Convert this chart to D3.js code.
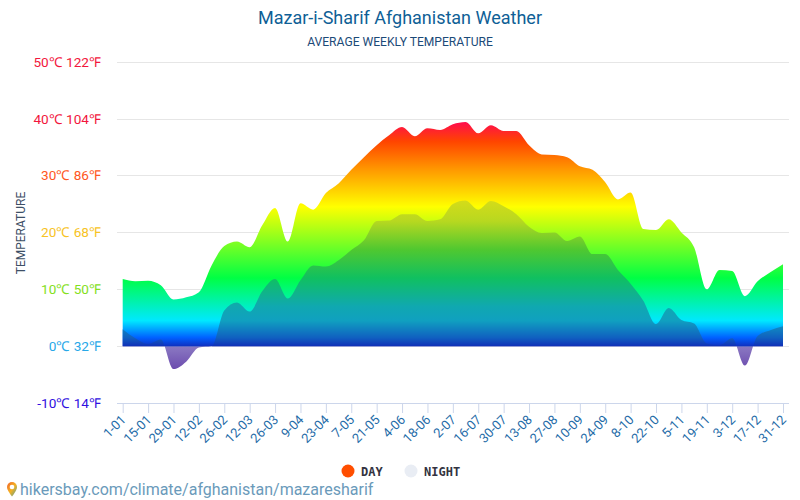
<!DOCTYPE html>
<html>
<head>
<meta charset="utf-8">
<script src="https://cdn.jsdelivr.net/npm/d3@7"></script>
<style>
  html, body { margin: 0; padding: 0; background: #fff; }
  svg { display: block; }
  text { font-family: Roboto, sans-serif; }
</style>
</head>
<body>
<svg id="chart" width="800" height="500"></svg>
<script>
const title = "Mazar-i-Sharif Afghanistan Weather";
const subtitle = "AVERAGE WEEKLY TEMPERATURE";
const yTitle = "TEMPERATURE";
const source = "hikersbay.com/climate/afghanistan/mazaresharif";

const weekLabels = ["1-01","15-01","29-01","12-02","26-02","12-03","26-03","9-04","23-04","7-05","21-05","4-06","18-06","2-07","16-07","30-07","13-08","27-08","10-09","24-09","8-10","22-10","5-11","19-11","3-12","17-12","31-12"];

const dayValues = [11.8,11.4,11.5,10.7,8.2,8.6,9.5,14.2,17.6,18.4,17.4,21.3,24.3,18.4,25.1,24,26.9,28.6,31,33.2,35.3,37.1,38.5,36.9,38.3,38,39,39.4,37.4,38.8,37.8,37.8,35.3,33.7,33.6,33.2,31.6,31,28.8,25.8,27,20.6,20.4,22.3,20,17.4,10,13.4,13.2,8.8,11.4,13,14.4];
const nightValues = [3,1.4,0.4,1.2,-4,-2.7,-0.2,0,6.3,7.7,6.1,9.7,11.8,8.4,11.6,14.2,14,15.1,16.9,18.6,22,22.1,23.2,23.2,22,22.3,25,25.6,24,25.5,24.6,23.2,21,19.9,20,18.5,19.3,16.2,16.2,13.4,11,8,3.9,6.7,4.6,4,0.5,0.2,1.4,-3.4,1.8,2.8,3.5];

const yTicks = [50,40,30,20,10,0,-10];
const yTickColors = ["#f2163c","#f2163c","#ff5722","#f7c325","#84e01c","#28a8e8","#3010e0"];

const dayStops = [[39.5,"#ff0a50"],[36,"#ff4400"],[31,"#ff9900"],[24.5,"#ffff00"],[12,"#00ff44"],[4.5,"#00e8ff"],[1.5,"#0060ff"],[0,"#1030c0"]];
const nightStops = [[26,"#d8dc18"],[22,"#b8d820"],[17,"#50c830"],[12,"#10c060"],[7,"#10a8b0"],[4.5,"#10a0c0"],[1.5,"#1060c0"],[0,"#1030b8"],[-0.1,"#8a78c2"],[-4,"#6c4cae"]];

const svg = d3.select("#chart");

const x = d3.scaleLinear().domain([0, dayValues.length - 1]).range([122.7, 783]);
const y = d3.scaleLinear().domain([-10, 50]).range([403.2, 61.6]);

// gradients run along the temperature scale
function addGradient(id, stops) {
  const g = svg.append("defs").append("linearGradient")
    .attr("id", id)
    .attr("gradientUnits", "userSpaceOnUse")
    .attr("x1", 0).attr("x2", 0)
    .attr("y1", y(stops[0][0])).attr("y2", y(stops[stops.length - 1][0]));
  const pos = d3.scaleLinear().domain([stops[0][0], stops[stops.length - 1][0]]).range([0, 1]);
  stops.forEach(s => g.append("stop").attr("offset", pos(s[0])).attr("stop-color", s[1]));
}
addGradient("dayFill", dayStops);
addGradient("nightFill", nightStops);

// grid
svg.append("g").selectAll("line").data(yTicks.filter(d => d !== -10)).join("line")
  .attr("x1", 117).attr("x2", 789)
  .attr("y1", d => Math.round(y(d)) + 0.5).attr("y2", d => Math.round(y(d)) + 0.5)
  .attr("stroke", "#e6e6e6");

// y labels
svg.append("g").selectAll("text").data(yTicks).join("text")
  .attr("x", 101).attr("y", d => y(d) + 5)
  .attr("text-anchor", "end")
  .attr("font-size", 13.6)
  .attr("fill", (d, i) => yTickColors[i])
  .text(d => `${d}℃ ${Math.round(d * 1.8 + 32)}℉`);

const area = vals => d3.area()
  .x((d, i) => x(i))
  .y0(y(0))
  .y1(d => y(d))
  .curve(d3.curveMonotoneX)(vals);

svg.append("path").attr("d", area(dayValues)).attr("fill", "url(#dayFill)");
svg.append("path").attr("d", area(nightValues)).attr("fill", "url(#nightFill)");

// x axis
const xAxis = d3.axisBottom(d3.scalePoint().domain(weekLabels).range([122.7, 783]))
  .tickSize(10).tickSizeOuter(0);
const xg = svg.append("g").attr("transform", "translate(0,403)").call(xAxis);
xg.select(".domain").attr("d", "M117,0.5H789").attr("stroke", "#ccd6eb");
xg.selectAll(".tick line").attr("stroke", "#ccd6eb");
xg.selectAll(".tick text")
  .attr("font-family", "Roboto, sans-serif")
  .attr("font-size", 13)
  .attr("fill", "#1f6ca8")
  .attr("text-anchor", "end")
  .attr("y", 0).attr("dy", 0)
  .attr("transform", "translate(3.5,17.5) rotate(-45)");

// titles
svg.append("text").attr("x", 400).attr("y", 24).attr("text-anchor", "middle")
  .attr("font-size", 18).attr("fill", "#0f5f96").text(title);
svg.append("text").attr("x", 400).attr("y", 46).attr("text-anchor", "middle")
  .attr("font-size", 12.1).attr("fill", "#1b4a78").text(subtitle);
svg.append("text").attr("transform", "translate(25,233) rotate(-90)").attr("text-anchor", "middle")
  .attr("font-size", 12).attr("fill", "#3d4f66").text(yTitle);

// legend
const legend = [["DAY", "#ff4e00", 348, 361], ["NIGHT", "#e9edf4", 411, 424]];
legend.forEach(l => {
  svg.append("circle").attr("cx", l[2]).attr("cy", 471).attr("r", 6.5).attr("fill", l[1]);
  svg.append("text").attr("x", l[3]).attr("y", 476)
    .style("font-family", "'DejaVu Sans Mono', monospace")
    .attr("font-size", 12).attr("font-weight", "bold").attr("fill", "#333340").text(l[0]);
});

// source line with pin
const pin = svg.append("defs").append("linearGradient").attr("id", "pinFill")
  .attr("x1", 0).attr("y1", 0).attr("x2", 1).attr("y2", 1);
pin.append("stop").attr("offset", 0).attr("stop-color", "#f0602a");
pin.append("stop").attr("offset", 0.5).attr("stop-color", "#f5b323");
pin.append("stop").attr("offset", 1).attr("stop-color", "#4a9a9a");
svg.append("path").attr("d", "M12,482a5,5 0 0 1 5,5c0,3.5 -5,9.5 -5,9.5s-5,-6 -5,-9.5a5,5 0 0 1 5,-5z")
  .attr("fill", "url(#pinFill)");
svg.append("circle").attr("cx", 12).attr("cy", 487).attr("r", 2.3).attr("fill", "#fff");
svg.append("text").attr("x", 20).attr("y", 495)
  .attr("font-size", 16).attr("fill", "#6a9aba").text(source);
</script>
</body>
</html>
